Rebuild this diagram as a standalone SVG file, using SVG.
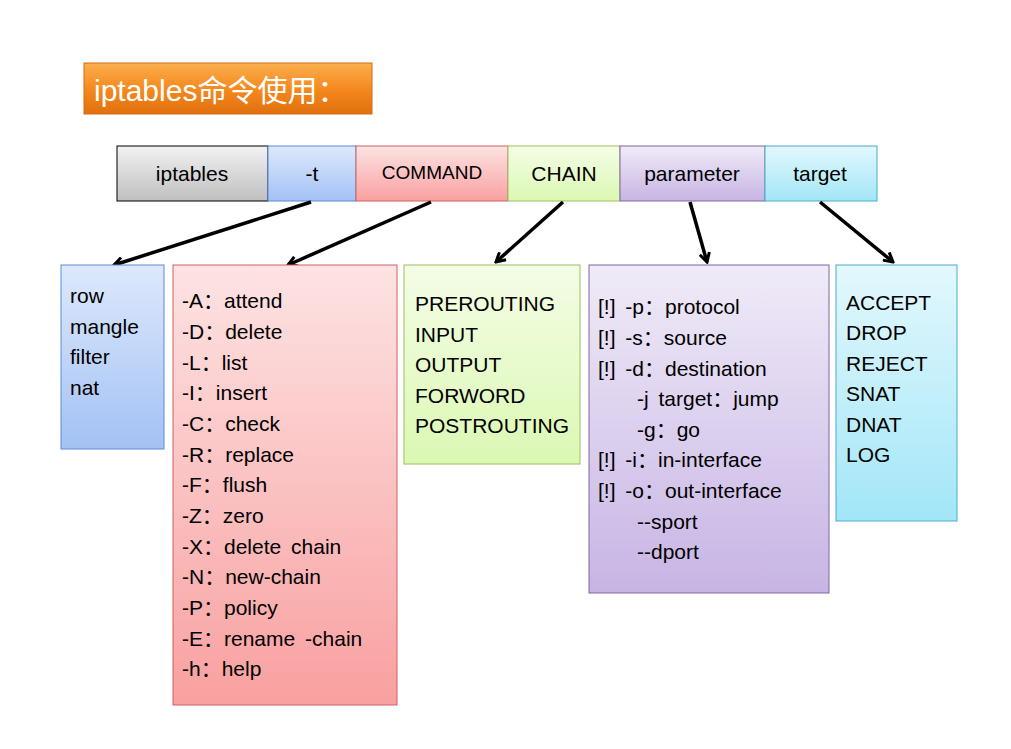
<svg xmlns="http://www.w3.org/2000/svg" width="1011" height="749" viewBox="0 0 1011 749">
<defs>
<linearGradient id="gOr" x1="0" y1="0" x2="0" y2="1"><stop offset="0" stop-color="#fbb04e"/><stop offset="0.5" stop-color="#f58a1f"/><stop offset="1" stop-color="#e0700e"/></linearGradient>
<linearGradient id="gGr" x1="0" y1="0" x2="0" y2="1"><stop offset="0" stop-color="#f2f2f2"/><stop offset="1" stop-color="#bfbfbf"/></linearGradient>
<linearGradient id="gBl" x1="0" y1="0" x2="0" y2="1"><stop offset="0" stop-color="#dde9fb"/><stop offset="1" stop-color="#a3c1f5"/></linearGradient>
<linearGradient id="gRd" x1="0" y1="0" x2="0" y2="1"><stop offset="0" stop-color="#fde3e3"/><stop offset="1" stop-color="#f9a0a0"/></linearGradient>
<linearGradient id="gGn" x1="0" y1="0" x2="0" y2="1"><stop offset="0" stop-color="#f4fde6"/><stop offset="1" stop-color="#dbf8b3"/></linearGradient>
<linearGradient id="gPu" x1="0" y1="0" x2="0" y2="1"><stop offset="0" stop-color="#f0ebf8"/><stop offset="1" stop-color="#c7b4e4"/></linearGradient>
<linearGradient id="gCy" x1="0" y1="0" x2="0" y2="1"><stop offset="0" stop-color="#e3f8fd"/><stop offset="1" stop-color="#a2e6f7"/></linearGradient>
<marker id="arr" markerWidth="12" markerHeight="12" refX="10" refY="6" orient="auto" markerUnits="userSpaceOnUse" viewBox="0 0 12 12"><path d="M1,1 L10,6 L1,11" fill="none" stroke="#000" stroke-width="3"/></marker>
</defs>
<style>
text{font-family:"Liberation Sans","Noto Sans CJK SC",sans-serif;font-size:21px;fill:#000}
.h{text-anchor:middle}
.b text{word-spacing:4px}
.ln{stroke:#000;stroke-width:3.5;fill:none;marker-end:url(#arr)}
</style>
<rect width="1011" height="749" fill="#fff"/>
<g id="title"><rect x="84" y="63" width="288" height="51" fill="url(#gOr)" stroke="#d46a10"/><text x="94" y="101" style="font-size:30px;fill:#fff">iptables命令使用：</text></g>
<g id="header">
<rect x="117" y="146" width="151" height="55" fill="url(#gGr)" stroke="#000"/><text class="h" x="192" y="181">iptables</text>
<rect x="268" y="146" width="88" height="55" fill="url(#gBl)" stroke="#5b8bd6"/><text class="h" x="312" y="181">-t</text>
<rect x="356" y="146" width="152" height="55" fill="url(#gRd)" stroke="#d06060"/><text class="h" x="432" y="179" style="font-size:19px">COMMAND</text>
<rect x="508" y="146" width="112" height="55" fill="url(#gGn)" stroke="#9bc25a"/><text class="h" x="564" y="181">CHAIN</text>
<rect x="620" y="146" width="145" height="55" fill="url(#gPu)" stroke="#8064a2"/><text class="h" x="692" y="181">parameter</text>
<rect x="765" y="146" width="112" height="55" fill="url(#gCy)" stroke="#4bacc6"/><text class="h" x="820" y="181">target</text>
</g>
<g id="connectors">
<line class="ln" x1="311" y1="202" x2="114" y2="265"/>
<line class="ln" x1="431" y1="202" x2="288" y2="265"/>
<line class="ln" x1="563" y1="202" x2="496" y2="262"/>
<line class="ln" x1="690" y1="202" x2="707" y2="262"/>
<line class="ln" x1="820" y1="202" x2="893" y2="262"/>
</g>
<g id="table" class="b"><rect x="61" y="265" width="103" height="184" fill="url(#gBl)" stroke="#5b8bd6"/>
<text x="70" y="303">row</text><text x="70" y="334">mangle</text><text x="70" y="364">filter</text><text x="70" y="395">nat</text></g>
<g id="command" class="b"><rect x="173" y="265" width="224" height="440" fill="url(#gRd)" stroke="#d06060"/>
<text x="182" y="308">-A：attend</text><text x="182" y="339">-D：delete</text><text x="182" y="370">-L：list</text><text x="182" y="400">-I：insert</text><text x="182" y="431">-C：check</text><text x="182" y="462">-R：replace</text><text x="182" y="492">-F：flush</text><text x="182" y="523">-Z：zero</text><text x="182" y="554">-X：delete chain</text><text x="182" y="584">-N：new-chain</text><text x="182" y="615">-P：policy</text><text x="182" y="646">-E：rename -chain</text><text x="182" y="676">-h：help</text></g>
<g id="chain" class="b"><rect x="404" y="265" width="176" height="199" fill="url(#gGn)" stroke="#9bc25a"/>
<text x="415" y="311">PREROUTING</text><text x="415" y="342">INPUT</text><text x="415" y="372">OUTPUT</text><text x="415" y="403">FORWORD</text><text x="415" y="433">POSTROUTING</text></g>
<g id="parameter" class="b"><rect x="589" y="265" width="240" height="328" fill="url(#gPu)" stroke="#8064a2"/>
<text x="598" y="314">[!] -p：protocol</text><text x="598" y="345">[!] -s：source</text><text x="598" y="376">[!] -d：destination</text><text x="637" y="406">-j target：jump</text><text x="637" y="437">-g：go</text><text x="598" y="467">[!] -i：in-interface</text><text x="598" y="498">[!] -o：out-interface</text><text x="637" y="529">--sport</text><text x="637" y="559">--dport</text></g>
<g id="target" class="b"><rect x="836" y="265" width="121" height="256" fill="url(#gCy)" stroke="#4bacc6"/>
<text x="846" y="310">ACCEPT</text><text x="846" y="340">DROP</text><text x="846" y="371">REJECT</text><text x="846" y="401">SNAT</text><text x="846" y="432">DNAT</text><text x="846" y="462">LOG</text></g>
</svg>
